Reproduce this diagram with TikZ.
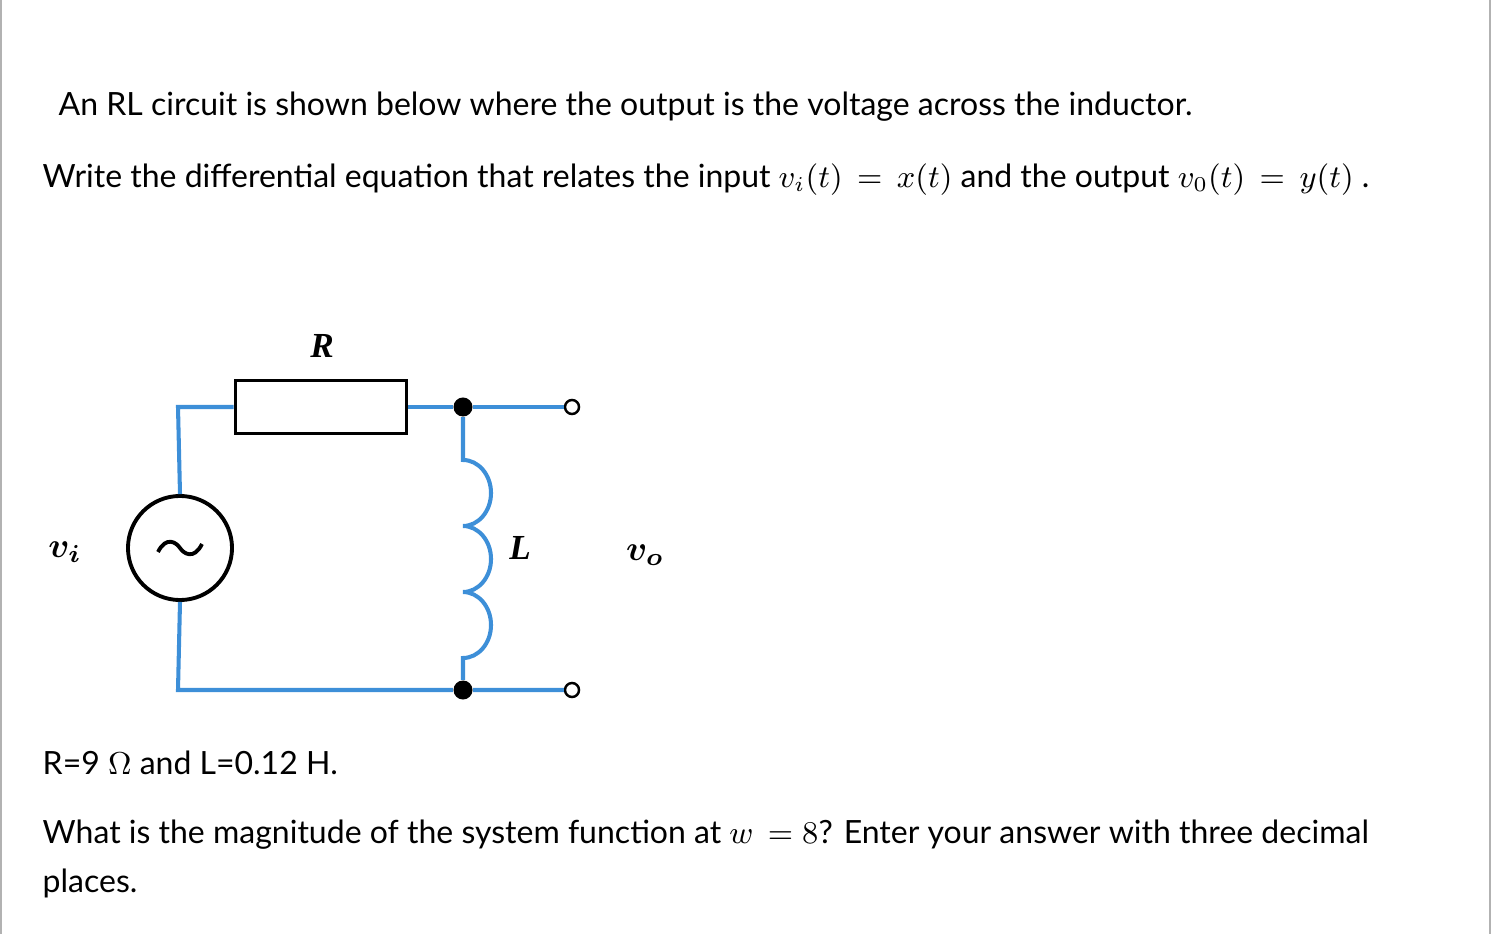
\documentclass[tikz,border=0pt]{standalone}
\usepackage{amsmath,amssymb,bm}
\usepackage{fontspec}
\setmainfont{Lato}
\newfontfamily\tnr{Liberation Serif}
\usetikzlibrary{calc}
\definecolor{wire}{HTML}{3D8FD8}
\tikzset{wirest/.style={wire,line width=1.15pt},
 txt/.style={anchor=west,inner sep=0pt,font=\fontsize{9.1pt}{11pt}\selectfont},
 dotst/.style={circle,fill=black,inner sep=0pt,minimum size=0.19cm},
 term/.style={circle,draw=black,fill=white,line width=0.7pt,inner sep=0pt,minimum size=0.14cm},
 lab/.style={font=\tnr\bfseries\itshape\fontsize{10pt}{12pt}\selectfont}}
\begin{document}
\begin{tikzpicture}[x=0.01cm,y=-0.01cm]
\useasboundingbox (0,0) rectangle (1492,934);
\draw[gray!60,line width=0.6pt] (1,0)--(1,934) (1490,0)--(1490,934);
\node[txt] (t1) at (58,107) {An RL circuit is shown below where the output is the voltage across the inductor.};
\node[txt] (t2) at (42,180) {Write the differential equation that relates the input $v_i(t)\,=\,x(t)$ and the output $v_0(t)\,=\,y(t)$ .};
\node[txt] (t3) at (42,763) {R=9 $\Omega$ and L=0.12 H.};
\node[txt] (t4) at (42,835) {What is the magnitude of the system function at $w\,=8$? Enter your answer with three decimal};
\node[txt] (t5) at (42,883) {places.};
% circuit
\coordinate (tl) at (178,407);
\coordinate (bl) at (178,690);
\node[draw=black,line width=1.1pt,minimum width=1.71cm,minimum height=0.53cm,inner sep=0pt] (res) at (321,407) {};
\node[dotst] (d1) at (463,407) {};
\node[dotst] (d2) at (463,690) {};
\node[term] (o1) at (572,407) {};
\node[term] (o2) at (572,690) {};
\node[circle,draw=black,line width=1.1pt,minimum size=1.04cm,inner sep=0pt] (src) at (180,548) {};
\draw[line width=1.1pt] ($(src)+(-22,4)$) .. controls ($(src)+(-14,-12)$) and ($(src)+(-4,-6)$) .. ($(src)+(0,0)$) .. controls ($(src)+(4,6)$) and ($(src)+(14,12)$) .. ($(src)+(22,-4)$);
\draw[wirest] (res.east)--(d1)--(o1);
\draw[wirest] (res.west)--(tl)--(src.north);
\draw[wirest] (src.south)--(bl)--(d2)--(o2);
\draw[wirest] (d1)--(463,460) arc(-90:90:28 and 33) arc(-90:90:28 and 33) arc(-90:90:28 and 33) -- (d2);
\node[lab] (R) at (322,346) {R};
\node[lab] (L) at (520,548) {L};
\node[lab] (vi) at (65,552) {$\bm{v_i}$};
\node[lab] (vo) at (645,555) {$\bm{v_o}$};
\end{tikzpicture}
\end{document}
